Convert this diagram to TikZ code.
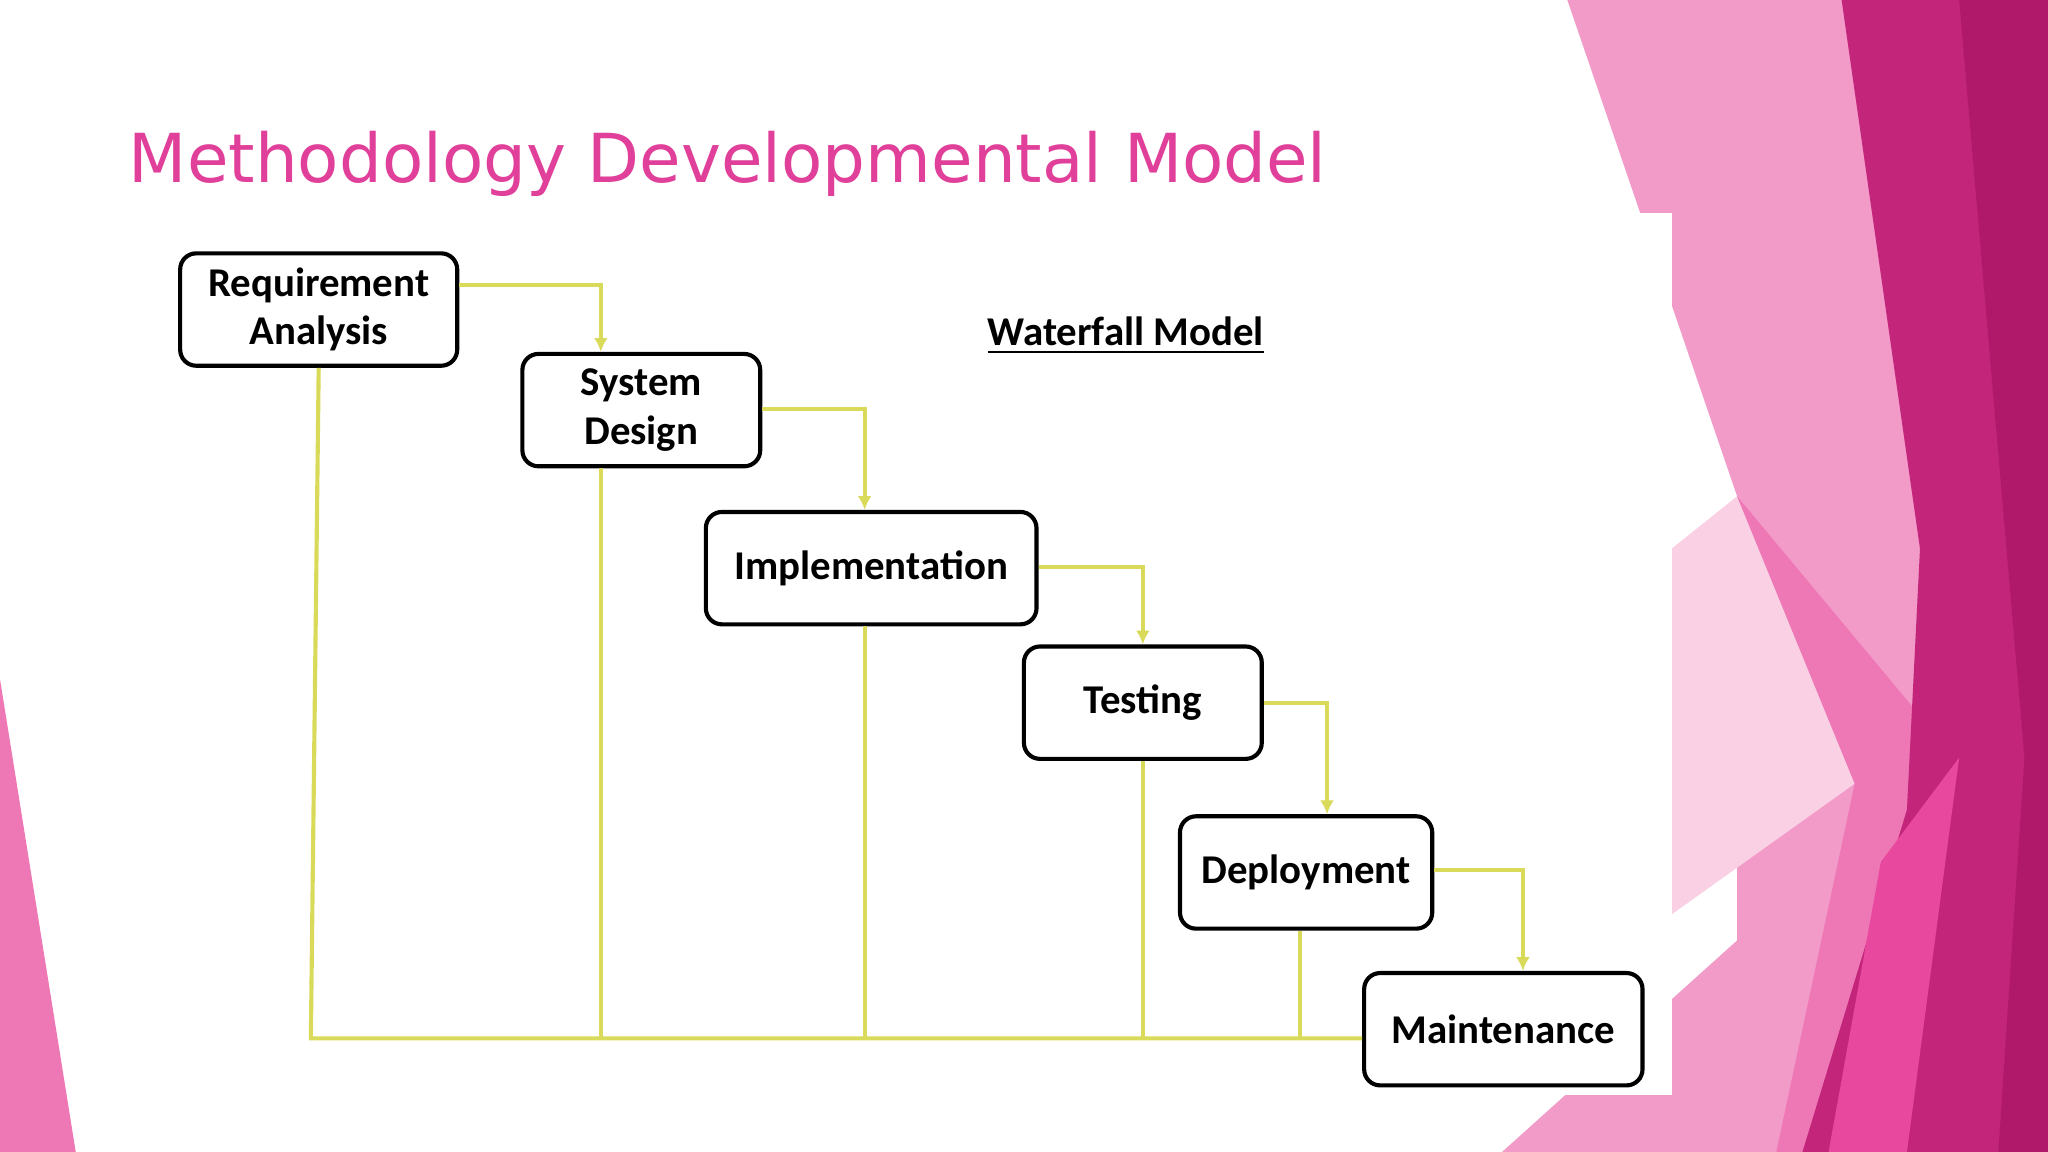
\documentclass[tikz,border=0pt]{standalone}
\usepackage{fontspec}
\setmainfont{Carlito}
\newfontfamily\titlefont{DejaVu Sans}
\usetikzlibrary{arrows.meta}
\definecolor{lpink}{HTML}{F29BC8}
\definecolor{vpink}{HTML}{F9D0E4}
\definecolor{mpink}{HTML}{EE78B6}
\definecolor{dmag}{HTML}{C2257A}
\definecolor{ddmag}{HTML}{B0186A}
\definecolor{bpink}{HTML}{E8489E}
\definecolor{titlec}{HTML}{E0409A}
\definecolor{ylw}{HTML}{D9D95A}
\begin{document}
\begin{tikzpicture}[x=0.01cm,y=-0.01cm,
  stagebox/.style={draw=black,line width=0.9pt,rounded corners=3.5pt,fill=white,align=center,font=\bfseries\fontsize{8.9}{10.5}\selectfont,inner sep=0pt},
  flow/.style={draw=ylw,line width=0.9pt,-{Latex[length=3pt,width=3pt]}},
  back/.style={draw=ylw,line width=0.9pt}]
\useasboundingbox (0,0) rectangle (1568,882);
\fill[white] (0,0) rectangle (1568,882);
% decoration right
\fill[lpink] (1200,0)--(1568,0)--(1568,882)--(1150,882)--(1330,720)--(1330,380)--cycle;
\fill[vpink] (1280,420)--(1330,380)--(1420,600)--(1280,700)--cycle;
\fill[mpink] (1330,380)--(1480,560)--(1440,882)--(1360,882)--(1420,600)--cycle;
\fill[dmag] (1410,0)--(1568,0)--(1568,882)--(1380,882)--(1460,620)--(1470,420)--cycle;
\fill[ddmag] (1500,0)--(1568,0)--(1568,882)--(1530,882)--(1550,580)--cycle;
\fill[bpink] (1440,660)--(1500,580)--(1460,882)--(1400,882)--cycle;
% left decoration
\fill[mpink] (0,520)--(58,882)--(0,882)--cycle;
% panel
\fill[white] (95,163) rectangle (1280,838);
\node[anchor=base west,inner sep=0pt,text=titlec,font=\titlefont\fontsize{14.7}{18}\selectfont] (title) at (98,140) {Methodology Developmental Model};
\node[font=\bfseries\fontsize{8.9}{10.5}\selectfont,inner sep=1pt] (wm) at (862,257) {\underline{Waterfall\ Model}};
\node[stagebox,minimum width=2.12cm,minimum height=0.86cm] (ra) at (244,237) {Requirement\\Analysis};
\node[stagebox,minimum width=1.82cm,minimum height=0.86cm] (sd) at (491,314) {System\\Design};
\node[stagebox,minimum width=2.53cm,minimum height=0.86cm] (im) at (667,435) {Implementation};
\node[stagebox,minimum width=1.82cm,minimum height=0.86cm] (te) at (875,538) {Testing};
\node[stagebox,minimum width=1.93cm,minimum height=0.86cm] (de) at (1000,668) {Deployment};
\node[stagebox,minimum width=2.13cm,minimum height=0.86cm] (ma) at (1151,788) {Maintenance};
\coordinate (b0) at (238,795);
\draw[back] (ra.south) -- (b0) -- (ma.west |- b0);
\draw[back] (sd.south -| 460,0) -- (460,795);
\draw[back] (im.south -| 662,0) -- (662,795);
\draw[back] (te.south) -- (875,795);
\draw[back] (de.south -| 995,0) -- (995,795);
\draw[flow] (ra.east |- 0,218) -| (sd.north -| 460,0);
\draw[flow] (sd.east |- 0,313) -| (im.north -| 662,0);
\draw[flow] (im.east |- 0,434) -| (te.north);
\draw[flow] (te.east |- 0,538) -| (de.north -| 1016,0);
\draw[flow] (de.east |- 0,666) -| (ma.north -| 1166,0);
\end{tikzpicture}
\end{document}
